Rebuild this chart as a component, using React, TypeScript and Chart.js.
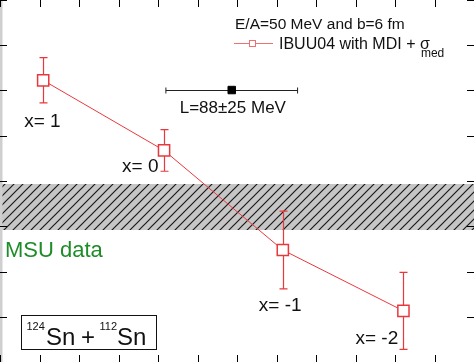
import { useEffect, useRef } from 'react';
import { Chart, registerables } from 'chart.js';

Chart.register(...registerables);

// ---- data ----
const pointLabels = ['x= 1', 'x= 0', 'x= -1', 'x= -2'];
const slopeL = [16.4, 62.3, 107.4, 153.2]; // L (MeV)
const doubleRatio = [2.245, 1.935, 1.495, 1.226];
const doubleRatioErr = [0.1, 0.092, 0.172, 0.17];
const expL = [88];
const expLErr = [25];
const expY = [2.202];
const msuBand = [1.583, 1.787]; // lower, upper
const xRange = [0, 180];
const yRange = [1.0, 2.6];
const xTicks = [0, 15, 30, 45, 60, 75, 90, 105, 120, 135, 150, 165, 180];
const yTicks = [1.0, 1.2, 1.4, 1.6, 1.8, 2.0, 2.2, 2.4, 2.6];
const legendTitle = 'E/A=50 MeV and b=6 fm';
const seriesName = 'IBUU04 with MDI + ';
const bandLabel = 'MSU data';
const expLabel = 'L=88\u00B125 MeV';

const RED = '#e8383d';
const FONT = '"Liberation Sans", Arial, Helvetica, sans-serif';

const errorBars = {
  id: 'errorBars',
  beforeDatasetDraw(chart: any, args: any) {
    const ds = chart.data.datasets[args.index];
    const { ctx } = chart;
    const xs = chart.scales.x;
    const ys = chart.scales.y;
    if (ds.errY) {
      ctx.save();
      ctx.strokeStyle = ds.borderColor;
      ctx.lineWidth = 1.2;
      ds.data.forEach((p: any, i: number) => {
        const px = Math.round(xs.getPixelForValue(p.x)) + 0.5;
        const top = ys.getPixelForValue(p.y + ds.errY[i]);
        const bot = ys.getPixelForValue(p.y - ds.errY[i]);
        ctx.beginPath();
        ctx.moveTo(px, top);
        ctx.lineTo(px, bot);
        ctx.moveTo(px - 4, top);
        ctx.lineTo(px + 4, top);
        ctx.moveTo(px - 4, bot);
        ctx.lineTo(px + 4, bot);
        ctx.stroke();
      });
      ctx.restore();
    }
    if (ds.errX) {
      ctx.save();
      ctx.strokeStyle = '#222';
      ctx.lineWidth = 1;
      ds.data.forEach((p: any, i: number) => {
        const py = Math.round(ys.getPixelForValue(p.y)) + 0.5;
        const l = xs.getPixelForValue(p.x - ds.errX[i]);
        const r = xs.getPixelForValue(p.x + ds.errX[i]);
        ctx.beginPath();
        ctx.moveTo(l, py);
        ctx.lineTo(r, py);
        ctx.moveTo(l, py - 3);
        ctx.lineTo(l, py + 3);
        ctx.moveTo(r, py - 3);
        ctx.lineTo(r, py + 3);
        ctx.stroke();
      });
      ctx.restore();
    }
  },
};

const frameAndText = {
  id: 'frameAndText',
  afterDatasetsDraw(chart: any) {
    const { ctx, chartArea: a } = chart;
    const xs = chart.scales.x;
    const ys = chart.scales.y;
    ctx.save();
    // left axis strip
    ctx.fillStyle = '#cfcfcf';
    ctx.fillRect(a.left, a.top, 2.5, a.bottom - a.top);
    // ticks, inward on all four sides
    ctx.strokeStyle = '#000';
    ctx.lineWidth = 1;
    ctx.beginPath();
    xTicks.forEach((t) => {
      const px = Math.round(xs.getPixelForValue(t)) + 0.5;
      ctx.moveTo(px, a.top);
      ctx.lineTo(px, a.top + 7);
      ctx.moveTo(px, a.bottom);
      ctx.lineTo(px, a.bottom - 7);
    });
    yTicks.forEach((t) => {
      const py = Math.round(ys.getPixelForValue(t)) + 0.5;
      ctx.moveTo(a.left, py);
      ctx.lineTo(a.left + 7, py);
      ctx.moveTo(a.right, py);
      ctx.lineTo(a.right - 7, py);
    });
    ctx.stroke();

    ctx.textBaseline = 'alphabetic';
    ctx.textAlign = 'left';
    ctx.fillStyle = '#111';
    // point labels
    const offs = [
      [-19, 47],
      [-42, 22],
      [-24, 61],
      [-48, 33],
    ];
    ctx.font = `19px ${FONT}`;
    pointLabels.forEach((lab, i) => {
      const px = xs.getPixelForValue(slopeL[i]);
      const py = ys.getPixelForValue(doubleRatio[i]);
      ctx.fillText(lab, px + offs[i][0], py + offs[i][1]);
    });
    // experimental L label
    ctx.font = `17px ${FONT}`;
    ctx.fillText(expLabel, xs.getPixelForValue(expL[0]) - 52, ys.getPixelForValue(expY[0]) + 23);
    // MSU data label
    ctx.fillStyle = '#1e8c28';
    ctx.font = `22px ${FONT}`;
    ctx.fillText(bandLabel, a.left + 5, ys.getPixelForValue(msuBand[0]) + 27);

    // legend
    ctx.fillStyle = '#111';
    ctx.font = `15.5px ${FONT}`;
    ctx.fillText(legendTitle, 235, 28.5);
    ctx.strokeStyle = '#ee7070';
    ctx.lineWidth = 1;
    ctx.beginPath();
    ctx.moveTo(234, 43.5);
    ctx.lineTo(249, 43.5);
    ctx.moveTo(256, 43.5);
    ctx.lineTo(273, 43.5);
    ctx.stroke();
    ctx.strokeRect(249.5, 40.5, 6, 6);
    ctx.fillStyle = '#111';
    ctx.font = `16px ${FONT}`;
    ctx.fillText(seriesName, 279, 48.5);
    const w = ctx.measureText(seriesName).width;
    ctx.fillText('\u03C3', 279 + w, 48.5);
    ctx.font = `12px ${FONT}`;
    ctx.fillText('med', 279 + w + 1, 56.5);

    // reaction box
    ctx.strokeStyle = '#111';
    ctx.lineWidth = 1;
    ctx.strokeRect(21.5, 315.5, 135, 34);
    ctx.font = `11px ${FONT}`;
    ctx.fillText('124', 26.5, 329.5);
    ctx.fillText('112', 99.5, 329.5);
    ctx.font = `24px ${FONT}`;
    ctx.fillText('Sn', 46, 345);
    ctx.fillText('+', 81, 345);
    ctx.fillText('Sn', 117, 345);
    ctx.restore();
  },
};

export default function App() {
  const ref = useRef<HTMLCanvasElement | null>(null);
  useEffect(() => {
    document.body.style.margin = '0';
    const canvas = ref.current!;
    const ctx = canvas.getContext('2d')!;
    const tile = document.createElement('canvas');
    tile.width = 9;
    tile.height = 9;
    const t = tile.getContext('2d')!;
    t.fillStyle = '#c6c6c6';
    t.fillRect(0, 0, 9, 9);
    t.strokeStyle = '#1a1a1a';
    t.lineWidth = 1.2;
    t.beginPath();
    t.moveTo(-1, 10);
    t.lineTo(10, -1);
    t.moveTo(-1, 1);
    t.lineTo(1, -1);
    t.moveTo(8, 10);
    t.lineTo(10, 8);
    t.stroke();
    const pattern = ctx.createPattern(tile, 'repeat');

    const chart = new Chart(canvas, {
      type: 'line',
      data: {
        datasets: [
          {
            label: 'MSU upper',
            data: [
              { x: xRange[0], y: msuBand[1] },
              { x: xRange[1], y: msuBand[1] },
            ],
            borderColor: 'rgba(0,0,0,0)',
            borderWidth: 0,
            pointRadius: 0,
            fill: false,
            order: 10,
          },
          {
            label: 'MSU lower',
            data: [
              { x: xRange[0], y: msuBand[0] },
              { x: xRange[1], y: msuBand[0] },
            ],
            borderColor: 'rgba(0,0,0,0)',
            borderWidth: 0,
            pointRadius: 0,
            backgroundColor: pattern as any,
            fill: '-1',
            order: 9,
          },
          {
            label: 'IBUU04',
            data: slopeL.map((x, i) => ({ x, y: doubleRatio[i] })),
            errY: doubleRatioErr,
            borderColor: RED,
            borderWidth: 1,
            pointStyle: 'rect',
            pointRadius: 7.9,
            pointBorderWidth: 1.5,
            pointBackgroundColor: '#fff',
            pointBorderColor: RED,
            fill: false,
            tension: 0,
            order: 1,
          } as any,
          {
            label: 'exp',
            data: expL.map((x, i) => ({ x, y: expY[i] })),
            errX: expLErr,
            showLine: false,
            pointStyle: 'rect',
            pointRadius: 5.3,
            pointBorderWidth: 1,
            pointBackgroundColor: '#000',
            pointBorderColor: '#000',
            order: 0,
          } as any,
        ],
      },
      options: {
        animation: false,
        responsive: false,
        maintainAspectRatio: false,
        layout: { padding: 0, autoPadding: false },
        plugins: { legend: { display: false }, tooltip: { enabled: false }, title: { display: false } },
        scales: {
          x: { type: 'linear', min: xRange[0], max: xRange[1], display: false },
          y: { type: 'linear', min: yRange[0], max: yRange[1], display: false },
        },
      },
      plugins: [errorBars, frameAndText],
    });
    return () => chart.destroy();
  }, []);
  return (
    <canvas
      ref={ref}
      width={474}
      height={362}
      style={{ display: 'block', position: 'fixed', left: 0, top: 0, width: 474, height: 362 }}
    />
  );
}
